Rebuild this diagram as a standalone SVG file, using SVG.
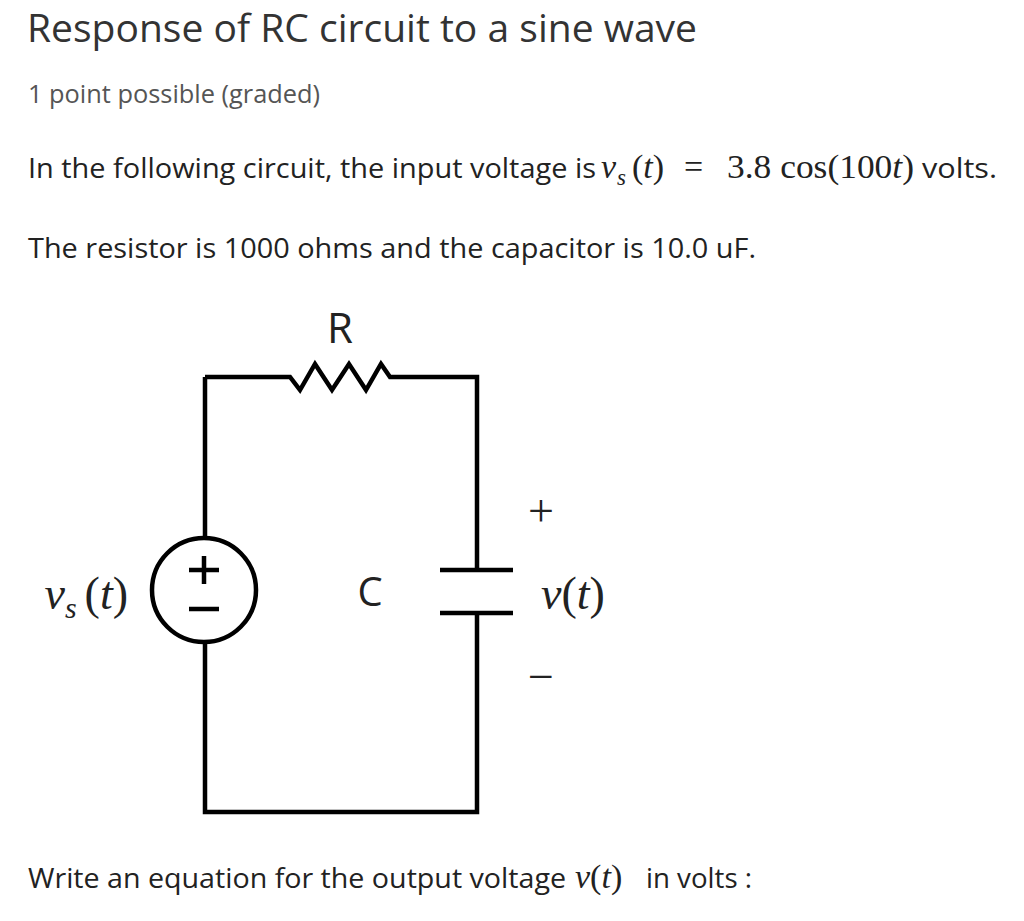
<svg xmlns="http://www.w3.org/2000/svg" width="1024" height="921" viewBox="0 0 1024 921">
<style>
.s{font-family:"Open Sans","Noto Sans",sans-serif;fill:#222}
.m{font-family:"Liberation Serif","DejaVu Serif",serif;fill:#222}
.w{fill:none;stroke:#000;stroke-width:4.5;stroke-linejoin:miter}
</style>
<rect width="1024" height="921" fill="#fff"/>
<text class="s" x="27" y="42" font-size="38" style="fill:#333" textLength="670" lengthAdjust="spacingAndGlyphs">Response of RC circuit to a sine wave</text>
<text class="s" x="28" y="103" font-size="25" style="fill:#555" textLength="292" lengthAdjust="spacingAndGlyphs">1 point possible (graded)</text>
<text class="s" x="28" y="178" font-size="28" textLength="568" lengthAdjust="spacingAndGlyphs">In the following circuit, the input voltage is</text>
<text class="m" x="601" y="178" font-size="34" font-style="italic">v</text>
<text class="m" x="617" y="185" font-size="23" font-style="italic">s</text>
<text class="m" x="632" y="178" font-size="34">(<tspan font-style="italic">t</tspan>)</text>
<text class="m" x="684" y="178" font-size="34">=</text>
<text class="m" x="727" y="178" font-size="34" textLength="187" lengthAdjust="spacingAndGlyphs">3.8 cos(100<tspan font-style="italic">t</tspan>)</text>
<text class="s" x="922" y="178" font-size="28" textLength="75" lengthAdjust="spacingAndGlyphs">volts.</text>
<text class="s" x="28" y="258" font-size="28" textLength="728" lengthAdjust="spacingAndGlyphs">The resistor is 1000 ohms and the capacitor is 10.0 uF.</text>
<g id="wires">
<path class="w" d="M205 377H290L300 390L315 364L332 390L349 364L366 390L381 364L390 377H477V570"/>
<path class="w" d="M477 613V812H205V642M205 538V377"/>
</g>
<g id="source">
<circle cx="204" cy="590" r="52" class="w"/>
<path class="w" d="M189 570H219M204 556V584M189 609H219"/>
<text class="m" x="128" y="609" font-size="46" text-anchor="end" font-style="italic">v<tspan font-size="30" dy="9">s</tspan><tspan font-style="normal" dy="-9" dx="8">(</tspan>t<tspan font-style="normal">)</tspan></text>
</g>
<g id="resistor"><text class="s" x="340" y="343" font-size="42" text-anchor="middle">R</text></g>
<g id="capacitor">
<path class="w" d="M440 570H513M440 613H513"/>
<text class="s" x="370" y="606" font-size="40" text-anchor="middle">C</text>
<text class="m" x="541" y="526" font-size="46" text-anchor="middle">+</text>
<text class="m" x="541" y="692" font-size="46" text-anchor="middle">−</text>
<text class="m" x="541" y="609" font-size="46"><tspan font-style="italic">v</tspan>(<tspan font-style="italic">t</tspan>)</text>
</g>
<text class="s" x="28" y="888" font-size="28" textLength="538" lengthAdjust="spacingAndGlyphs">Write an equation for the output voltage</text>
<text class="m" x="575" y="888" font-size="34"><tspan font-style="italic">v</tspan>(<tspan font-style="italic">t</tspan>)</text>
<text class="s" x="646" y="888" font-size="28" textLength="106" lengthAdjust="spacingAndGlyphs">in volts :</text>
</svg>
